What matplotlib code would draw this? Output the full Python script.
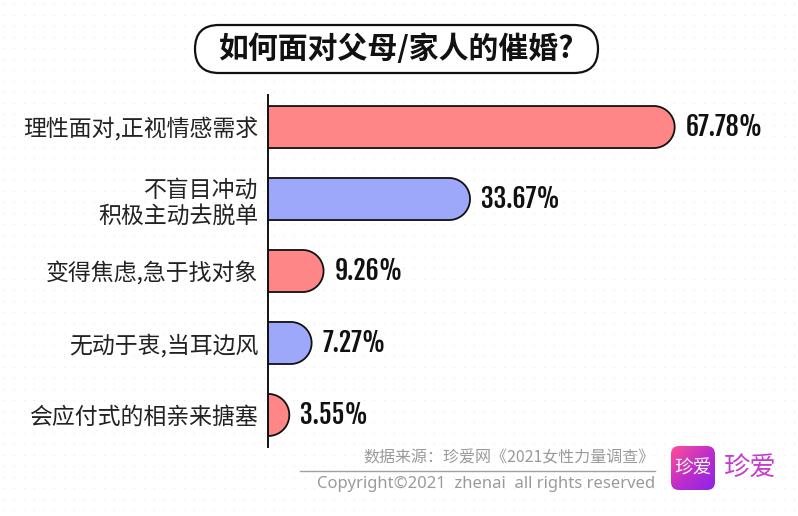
import numpy as np
import matplotlib
matplotlib.use("Agg")
import matplotlib.pyplot as plt
import matplotlib.patheffects as pe
from matplotlib import font_manager as fm
from matplotlib.path import Path
from matplotlib.patches import PathPatch, FancyBboxPatch

plt.rcParams['font.family'] = ['Noto Sans CJK SC', 'DejaVu Sans']

# data
categories = [
    "理性面对,正视情感需求",
    "不盲目冲动\n积极主动去脱单",
    "变得焦虑,急于找对象",
    "无动于衷,当耳边风",
    "会应付式的相亲来搪塞",
]
values = [67.78, 33.67, 9.26, 7.27, 3.55]
value_labels = ["67.78%", "33.67%", "9.26%", "7.27%", "3.55%"]
bar_colors = ["#FF8686", "#9DA8FA", "#FF8686", "#9DA8FA", "#FF8686"]

title = "如何面对父母/家人的催婚?"
source = "数据来源：珍爱网《2021女性力量调查》"
copyright_text = "Copyright©2021  zhenai  all rights reserved"
brand = "珍爱"

# narrow bold face for the percentages, best one first
wanted = [
    "fjallaone-regular", "oswald-semibold", "oswald-medium", "oswald-bold",
    "barlowcondensed-semibold", "sairacondensed-semibold", "ptsansnarrow-bold",
    "oswald[", "liberationsansnarrow-bold.ttf", "robotocondensed-bold.ttf",
    "dejavusanscondensed-bold.ttf",
]
files = [f.fname for f in fm.fontManager.ttflist]
cond_path = None
for pat in wanted:
    hits = [p for p in files if p.lower().split("/")[-1].startswith(pat)]
    if hits:
        cond_path = hits[0]
        break
if cond_path:
    value_font = fm.FontProperties(fname=cond_path, size=22)
else:
    value_font = fm.FontProperties(family="DejaVu Sans", weight="bold", size=22)
# a variable font file only gives its light default, so thicken it a bit
fake_bold = cond_path is not None and "[" in cond_path.split("/")[-1]

W, H = 798, 516
fig = plt.figure(figsize=(W / 100, H / 100), dpi=100)
fig.patch.set_facecolor("white")

# keep the widest label near the reference width
probe = fig.text(0, 0, "67.78%", fontproperties=value_font)
wpx = probe.get_window_extent(renderer=fig.canvas.get_renderer()).width
probe.remove()
value_font.set_size(min(22, 22 * 77 / wpx))

# background layer in pixel units
bg = fig.add_axes([0, 0, 1, 1], zorder=0)
bg.axis("off")

# faint dot pattern
gx, gy = np.meshgrid(np.arange(4, W, 10), np.arange(4, H, 11))
bg.scatter(gx.ravel(), gy.ravel(), s=1.2, color="#ececec", linewidths=0, zorder=0)

# title pill
title_box = FancyBboxPatch((195, 25), 403, 48,
                           boxstyle="round,pad=0,rounding_size=24",
                           facecolor="white", edgecolor="#111111", linewidth=1.6, zorder=2)
bg.add_patch(title_box)
bg.text(396, 49, title, ha="center", va="center", fontsize=21.5,
        fontweight="bold", color="#111111", zorder=3)

# footer
bg.text(655, 458, source, ha="right", va="center", fontsize=11.5, color="#9a9a9a", zorder=3)
bg.plot([300, 655], [471, 471], color="#a0a0a0", linewidth=1.0, zorder=3)
bg.text(655, 484, copyright_text, ha="right", va="center", fontsize=12,
        color="#9a9a9a", family=["Noto Sans", "DejaVu Sans"], zorder=3)

# logo
grad_x = np.linspace(0, 1, 64)
grad = (grad_x[None, :] + grad_x[:, None]) / 2
cmap = matplotlib.colors.LinearSegmentedColormap.from_list("logo", ["#ff4f96", "#c02fc8", "#8b23ea"])
im = bg.imshow(grad, cmap=cmap, extent=[671, 715, 490, 446], zorder=2, aspect="auto")
logo_box = FancyBboxPatch((671, 446), 44, 44, boxstyle="round,pad=0,rounding_size=8",
                          facecolor="none", edgecolor="none", transform=bg.transData)
bg.add_patch(logo_box)
im.set_clip_path(logo_box)
bg.text(693, 468, brand, ha="center", va="center", fontsize=13.5, color="white", zorder=3)
bg.text(750, 468, brand, ha="center", va="center", fontsize=19, color="#c53dcc", zorder=3)
bg.set_xlim(0, W)
bg.set_ylim(H, 0)

# chart axes
left_px, top_px, bottom_px = 268, 95, 447
px_per_unit = 6.0
ax = fig.add_axes([left_px / W, 1 - bottom_px / H, (W - left_px) / W, (bottom_px - top_px) / H],
                  zorder=1)
ax.patch.set_alpha(0)
ax.set_xlim(0, (W - left_px) / px_per_unit)
ax.set_ylim(4.445, -0.445)

bar_h = 0.584
rx_full = 21 / px_per_unit
for i, (v, c) in enumerate(zip(values, bar_colors)):
    rx = min(rx_full, v)
    ry = bar_h / 2
    t = np.linspace(-np.pi / 2, np.pi / 2, 60)
    xs = np.concatenate([[0], v - rx + rx * np.cos(t), [0]])
    ys = np.concatenate([[i - ry], i + ry * np.sin(t), [i + ry]])
    verts = list(zip(xs, ys)) + [(0, i - ry)]
    codes = [Path.MOVETO] + [Path.LINETO] * (len(verts) - 2) + [Path.CLOSEPOLY]
    ax.add_patch(PathPatch(Path(verts, codes), facecolor=c, edgecolor="#111111",
                           linewidth=1.3, zorder=2))
    txt = ax.text(v + 11 / px_per_unit, i, value_labels[i], ha="left", va="center",
                  fontproperties=value_font, color="#111111", zorder=3)
    if fake_bold:
        txt.set_path_effects([pe.withStroke(linewidth=0.9, foreground="#111111")])

for s in ["top", "right", "bottom"]:
    ax.spines[s].set_visible(False)
ax.spines["left"].set_linewidth(1.4)
ax.spines["left"].set_color("#111111")
ax.set_xticks([])
ax.set_yticks(range(len(categories)))
ax.set_yticklabels(categories, fontsize=16.5, color="#222222", linespacing=1.2)
ax.tick_params(axis="y", length=0, pad=7)

fig.savefig("out.png", dpi=100, facecolor="white")
